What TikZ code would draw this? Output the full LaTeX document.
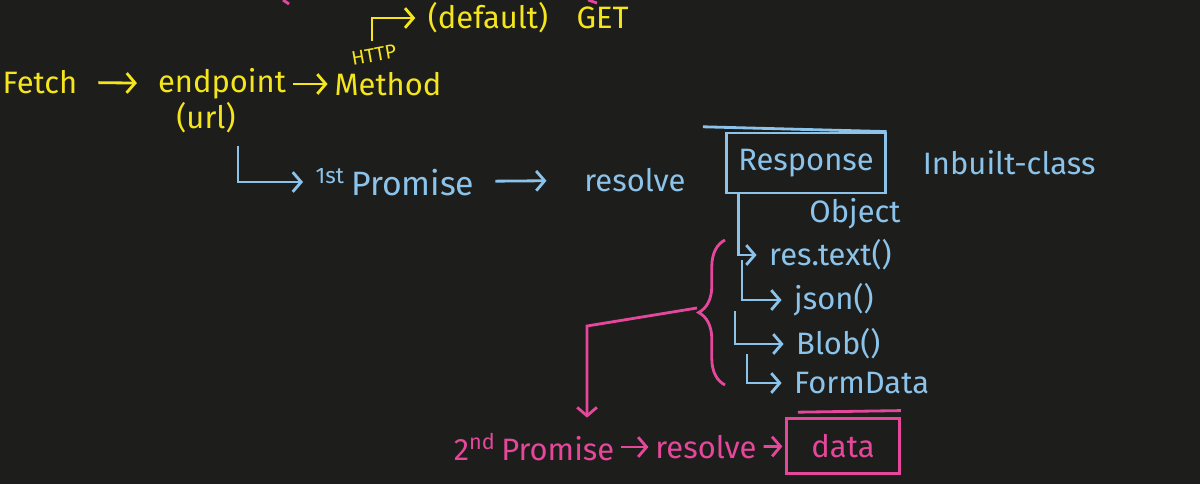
\documentclass[tikz,border=0pt]{standalone}
\usepackage{fontspec}
\setmainfont{Fira Sans}
\usepackage{xcolor}
\usetikzlibrary{arrows.meta, positioning, decorations.pathreplacing}
\definecolor{board}{HTML}{1D1D1B}
\definecolor{chalkyel}{HTML}{F5E51C}
\definecolor{chalkblue}{HTML}{8CC3EA}
\definecolor{chalkpink}{HTML}{E5479B}

\begin{document}
\begin{tikzpicture}[
    x=0.0125cm, y=-0.0125cm, % one unit = one pixel of the board
    >={Straight Barb[length=3pt,width=7pt]},
    line width=1pt,
    txt/.style={inner sep=1pt, font=\fontsize{11}{13}\selectfont},
    ytxt/.style={txt, text=chalkyel},
    btxt/.style={txt, text=chalkblue},
    ptxt/.style={txt, text=chalkpink},
    yarr/.style={->, draw=chalkyel, shorten >=3pt, shorten <=3pt},
    barr/.style={->, draw=chalkblue, shorten >=3pt},
    parr/.style={->, draw=chalkpink, shorten >=3pt},
    frame/.style={rectangle, draw, inner sep=0pt}
  ]
  \useasboundingbox (0,0) rectangle (1200,484);
  \fill[board] (0,0) rectangle (1200,484);

  % fetch call (yellow)
  \node[ytxt] (fetch) at (40,82) {Fetch};
  \node[ytxt] (endp) at (222,84) {endpoint};
  \node[ytxt] (url) at (206,118) {(url)};
  \node[ytxt] (meth) at (388,84) {Method};
  \node[ytxt, font=\fontsize{7}{8}\selectfont, rotate=10] (http) at (374,55) {HTTP};
  \node[ytxt] (dflt) at (488,18) {(default)};
  \node[ytxt, right=0.25cm of dflt] (get) {GET};
  \draw[yarr, shorten <=6pt, shorten >=6pt] (fetch) -- (endp);
  \draw[yarr, shorten <=1pt, shorten >=1pt] (endp) -- (meth);
  \draw[yarr, shorten <=1pt] (http.north) |- (dflt.west);

  % first promise (blue)
  \coordinate (l1) at (238,146);
  \node[btxt, font=\fontsize{12}{14}\selectfont] (prom1) at (395,182) {\textsuperscript{1st}\,Promise};
  \node[btxt] (res1) at (635,180) {resolve};
  \node[btxt, frame, draw=chalkblue, minimum width=1.98cm, minimum height=0.75cm] (resp) at (806,163) {Response};
  \node[btxt, right=0.4cm of resp] (inb) {Inbuilt-class};
  \node[btxt] (obj) at (855,214) {Object};
  \draw[barr] (l1) |- (prom1.west);
  \draw[barr, shorten <=6pt, shorten >=12pt] (prom1) -- (res1);
  \draw[chalkblue] ([xshift=-0.28cm,yshift=0.06cm]resp.north west) -- (resp.north east);

  % body readers
  \node[btxt, anchor=west] (rtext) at (765,255) {res.text()};
  \node[btxt, anchor=west] (json) at (790,300) {json()};
  \node[btxt, anchor=west] (blob) at (792,344) {Blob()};
  \node[btxt, anchor=west] (form) at (790,383) {FormData};
  \coordinate (t2) at (742,260);
  \coordinate (t3) at (735,311);
  \coordinate (t4) at (747,354);
  \draw[barr] ([xshift=0.16cm]resp.south west) |- (rtext.west);
  \draw[barr] (t2) |- (json.west);
  \draw[barr] (t3) |- (blob.west);
  \draw[barr] (t4) |- (form.west);

  % second promise (pink)
  \coordinate (br1) at (725,385);
  \coordinate (br2) at (725,240);
  \coordinate (brtip) at (697,308);
  \coordinate (bend) at (587,326);
  \node[ptxt] (prom2) at (534,447) {2\textsuperscript{nd}\,Promise};
  \node[ptxt] (res2) at (706,447) {resolve};
  \node[ptxt, frame, draw=chalkpink, minimum width=1.41cm, minimum height=0.69cm] (data) at (843,446) {data};
  \draw[chalkpink, decorate, decoration={brace, amplitude=0.33cm}] (br1) -- (br2);
  \draw[parr, shorten >=4pt] (brtip) -- (bend) -- (bend |- prom2.north);
  \draw[parr, shorten <=1pt, shorten >=1pt] (prom2) -- (res2);
  \draw[parr, shorten <=1pt, shorten >=1pt] (res2) -- (data);
  \draw[chalkpink] ([xshift=0.16cm,yshift=0.06cm]data.north west) -- ([yshift=0.08cm]data.north east);
  \draw[chalkpink] (283,0) -- (289,4);
  \draw[chalkpink] (588,0) -- (597,3);
\end{tikzpicture}
\end{document}
